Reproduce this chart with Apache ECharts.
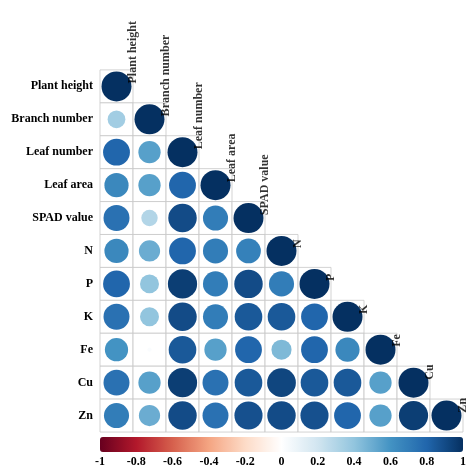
<!DOCTYPE html>
<html>
<head>
<meta charset="utf-8">
<script src="https://cdn.jsdelivr.net/npm/echarts@6/dist/echarts.min.js"></script>
<style>html,body{margin:0;background:#fff}#main{width:474px;height:470px}</style>
</head>
<body>
<div id="main"></div>
<script>
// traits, top to bottom
const traits = ["Plant height", "Branch number", "Leaf number", "Leaf area", "SPAD value", "N", "P", "K", "Fe", "Cu", "Zn"];

// lower triangle correlations, row i has i+1 values (last one is the diagonal)
const corr = [
    [1],
    [0.35, 1],
    [0.8, 0.55, 1],
    [0.65, 0.55, 0.8, 1],
    [0.75, 0.3, 0.9, 0.7, 1],
    [0.65, 0.5, 0.8, 0.7, 0.68, 1],
    [0.8, 0.4, 0.95, 0.7, 0.9, 0.7, 1],
    [0.75, 0.4, 0.9, 0.7, 0.85, 0.85, 0.8, 1],
    [0.6, 0.02, 0.85, 0.55, 0.8, 0.45, 0.8, 0.65, 1],
    [0.75, 0.55, 0.95, 0.75, 0.85, 0.92, 0.85, 0.85, 0.55, 1],
    [0.7, 0.5, 0.9, 0.75, 0.88, 0.9, 0.88, 0.8, 0.55, 0.95, 1],
];

const barTicks = [-1, 1];
const rdbu = ["#67001F", "#B2182B", "#D6604D", "#F4A582", "#FDDBC7", "#FFFFFF", "#D1E5F0", "#92C5DE", "#4393C3", "#2166AC", "#053061"];

const font = "Liberation Serif";
const cells = [];
const points = [];
corr.forEach((row, i) => {
    row.forEach((v, j) => {
        cells.push([traits[j], traits[i], 0]);
        points.push([traits[j], traits[i], v]);
    });
});
// column titles sit in the cell above each diagonal
const titles = traits.map((t, j) => [t, j === 0 ? "" : traits[j - 1], t]);

const chart = echarts.init(document.getElementById("main"));
chart.setOption({
    backgroundColor: "#fff",
    animation: false,
    grid: [
        { left: 100, right: 11, top: 37, bottom: 38 },
        { left: 100, right: 11, top: 452, height: 0 },
    ],
    xAxis: [
        {
            type: "category", data: traits, gridIndex: 0,
            axisLine: { show: false }, axisTick: { show: false }, axisLabel: { show: false },
            splitLine: { show: false },
        },
        {
            type: "value", gridIndex: 1, min: barTicks[0], max: barTicks[1], interval: 0.2,
            axisLine: { show: false }, axisTick: { show: false }, splitLine: { show: false },
            axisLabel: {
                fontFamily: font, fontWeight: "bold", fontSize: 12, color: "#000", margin: 4,
                formatter: (v) => (Math.abs(v) < 1e-9 ? "0" : String(Math.round(v * 10) / 10)),
            },
        },
    ],
    yAxis: [
        {
            type: "category", data: [""].concat(traits), inverse: true, gridIndex: 0,
            axisLine: { show: false }, axisTick: { show: false },
            axisLabel: { fontFamily: font, fontWeight: "bold", fontSize: 12, color: "#000", margin: 7 },
        },
        { type: "value", gridIndex: 1, show: false },
    ],
    visualMap: {
        type: "continuous", min: -1, max: 1, seriesIndex: 1, dimension: 2,
        orient: "horizontal", left: 100, top: 437, itemWidth: 15, itemHeight: 363,
        text: ["", ""], showLabel: false, calculable: false, padding: 0,
        inRange: { color: rdbu },
    },
    series: [
        {
            type: "scatter", xAxisIndex: 0, yAxisIndex: 0, data: cells,
            symbol: "rect", symbolSize: 33, silent: true,
            itemStyle: { color: "#fff", borderColor: "#c8c8c8", borderWidth: 1 },
        },
        {
            type: "scatter", xAxisIndex: 0, yAxisIndex: 0, data: points,
            symbolSize: (d) => 30 * Math.sqrt(Math.abs(d[2])),
            itemStyle: { opacity: 1 },
        },
        {
            type: "scatter", xAxisIndex: 0, yAxisIndex: 0, data: titles,
            symbolSize: 0,
            label: {
                show: true, rotate: 90, position: [16, 30], align: "left", verticalAlign: "middle",
                formatter: (p) => p.data[2],
                fontFamily: font, fontWeight: "bold", fontSize: 12, color: "#000",
            },
        },
    ],
});
</script>
</body>
</html>
